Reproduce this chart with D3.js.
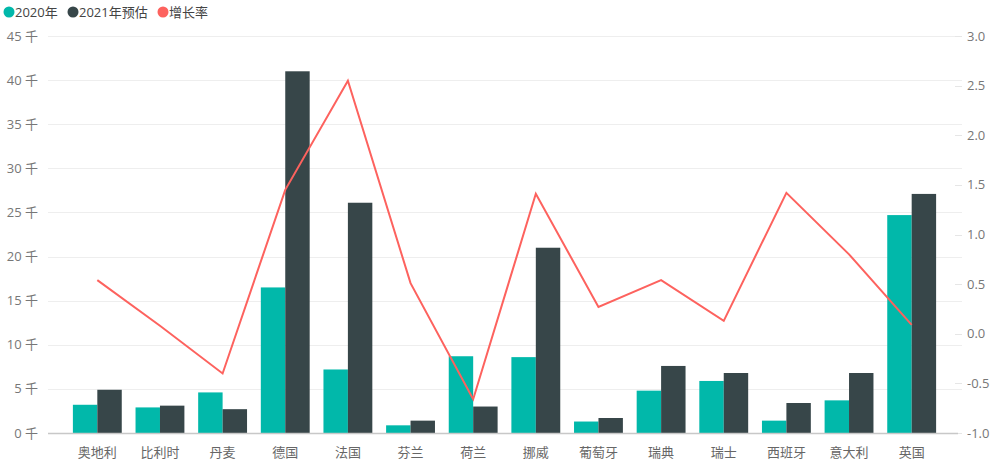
<!DOCTYPE html>
<html>
<head>
<meta charset="utf-8">
<script src="https://cdn.jsdelivr.net/npm/d3@7"></script>
<style>
  body { margin: 0; background: #fff; }
  text { font-family: "Segoe UI", "Open Sans", "Noto Sans CJK SC", sans-serif; }
</style>
</head>
<body>
<svg id="chart" width="1000" height="461"></svg>
<script>
// data
var countries = ["奥地利", "比利时", "丹麦", "德国", "法国", "芬兰", "荷兰", "挪威", "葡萄牙", "瑞典", "瑞士", "西班牙", "意大利", "英国"];
var v2020 = [3.2, 2.9, 4.6, 16.5, 7.2, 0.87, 8.7, 8.6, 1.3, 4.8, 5.9, 1.4, 3.7, 24.7];
var v2021 = [4.9, 3.1, 2.7, 41.0, 26.1, 1.4, 3.0, 21.0, 1.7, 7.6, 6.8, 3.4, 6.8, 27.1];
var growth = [0.54, 0.08, -0.40, 1.45, 2.55, 0.51, -0.66, 1.41, 0.27, 0.54, 0.13, 1.42, 0.80, 0.09];
var leftTicks = [0, 5, 10, 15, 20, 25, 30, 35, 40, 45];
var rightTicks = [-1.0, -0.5, 0.0, 0.5, 1.0, 1.5, 2.0, 2.5, 3.0];
var seriesNames = ["2020年", "2021年预估", "增长率"];
var colors = ["#01B8AA", "#374649", "#FD625E"];

var svg = d3.select("#chart");
var plotTop = 36, plotBottom = 433;

var x = d3.scaleBand().domain(countries).range([66, 943]).paddingInner(0.22).paddingOuter(0.11);
var sub = d3.scaleBand().domain([0, 1]).range([0, x.bandwidth()]);
var yL = d3.scaleLinear().domain([0, 45]).range([plotBottom, plotTop]);
var yR = d3.scaleLinear().domain([-1, 3]).range([plotBottom, plotTop]);

// gridlines (left axis)
svg.append("g").selectAll("line").data(leftTicks.slice(1)).enter().append("line")
  .attr("x1", 48).attr("x2", 962)
  .attr("y1", function(d) { return Math.round(yL(d)) + 0.5; })
  .attr("y2", function(d) { return Math.round(yL(d)) + 0.5; })
  .attr("stroke", "#eeeeee").attr("stroke-width", 1);

// right axis small ticks
svg.append("g").selectAll("line").data(rightTicks).enter().append("line")
  .attr("x1", 955).attr("x2", 962)
  .attr("y1", function(d) { return Math.round(yR(d)) + 0.5; })
  .attr("y2", function(d) { return Math.round(yR(d)) + 0.5; })
  .attr("stroke", "#e6e6e6");

// left labels
svg.append("g").selectAll("text").data(leftTicks).enter().append("text")
  .attr("x", 38).attr("y", function(d) { return yL(d) + 4.5; })
  .attr("text-anchor", "end").attr("font-size", 13).attr("fill", "#777")
  .text(function(d) { return d + " 千"; });

// right labels
svg.append("g").selectAll("text").data(rightTicks).enter().append("text")
  .attr("x", 967).attr("y", function(d) { return yR(d) + 4.5; })
  .attr("font-size", 13).attr("fill", "#777")
  .text(function(d) { return d3.format(".1f")(d).replace("−", "-"); });

// bars
var groups = svg.append("g").selectAll("g").data(countries).enter().append("g")
  .attr("transform", function(d) { return "translate(" + x(d) + ",0)"; });
groups.append("rect")
  .attr("x", sub(0)).attr("width", sub.bandwidth())
  .attr("y", function(d, i) { return yL(v2020[i]); })
  .attr("height", function(d, i) { return plotBottom - yL(v2020[i]); })
  .attr("fill", colors[0]);
groups.append("rect")
  .attr("x", sub(1)).attr("width", sub.bandwidth())
  .attr("y", function(d, i) { return yL(v2021[i]); })
  .attr("height", function(d, i) { return plotBottom - yL(v2021[i]); })
  .attr("fill", colors[1]);

// baseline
svg.append("line").attr("x1", 48).attr("x2", 958).attr("y1", plotBottom + 0.5).attr("y2", plotBottom + 0.5)
  .attr("stroke", "#c8c8c8").attr("stroke-width", 1.5);

// category labels
svg.append("g").selectAll("text").data(countries).enter().append("text")
  .attr("x", function(d) { return x(d) + x.bandwidth() / 2; })
  .attr("y", 457).attr("text-anchor", "middle")
  .attr("font-size", 13).attr("fill", "#666")
  .text(function(d) { return d; });

// growth line
var line = d3.line()
  .x(function(d, i) { return x(countries[i]) + x.bandwidth() / 2; })
  .y(function(d) { return yR(d); });
svg.append("path").datum(growth).attr("d", line)
  .attr("fill", "none").attr("stroke", colors[2]).attr("stroke-width", 2);

// legend
var legX = [9, 73, 163];
var leg = svg.append("g").selectAll("g").data(seriesNames).enter().append("g")
  .attr("transform", function(d, i) { return "translate(" + legX[i] + ",12)"; });
leg.append("circle").attr("r", 5.5).attr("fill", function(d, i) { return colors[i]; });
leg.append("text").attr("x", 6).attr("y", 4.5).attr("font-size", 13).attr("fill", "#444")
  .text(function(d) { return d; });
</script>
</body>
</html>
